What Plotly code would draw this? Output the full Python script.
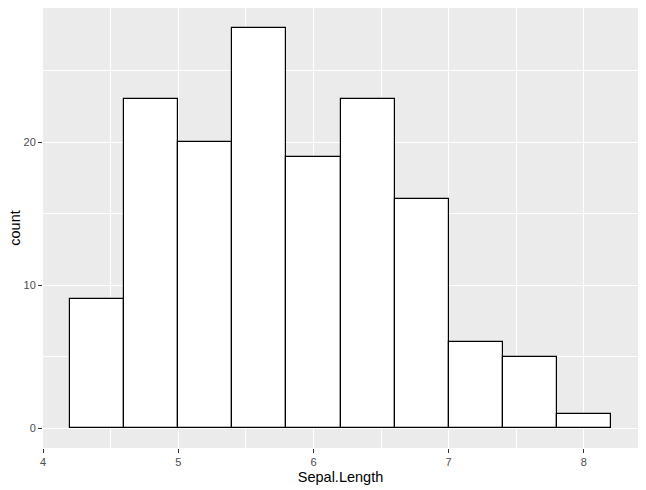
import plotly.graph_objects as go

# iris Sepal.Length histogram, binwidth 0.4
bin_edges = [4.2, 4.6, 5.0, 5.4, 5.8, 6.2, 6.6, 7.0, 7.4, 7.8, 8.2]
counts = [9, 23, 20, 28, 19, 23, 16, 6, 5, 1]
x_ticks = [4, 5, 6, 7, 8]
y_ticks = [0, 10, 20]

centers = [(a + b) / 2 for a, b in zip(bin_edges[:-1], bin_edges[1:])]
widths = [b - a for a, b in zip(bin_edges[:-1], bin_edges[1:])]

fig = go.Figure()
fig.add_trace(go.Bar(
    x=centers,
    y=counts,
    width=widths,
    marker=dict(color='white', line=dict(color='black', width=1.2)),
    hoverinfo='x+y',
))

tick_font = dict(family='Liberation Sans, Arial, sans-serif', size=11, color='#4D4D4D')
title_font = dict(family='Liberation Sans, Arial, sans-serif', size=14.5, color='black')

# the page body adds an 8px offset, so the figure is sized to fill the rest
fig.update_layout(
    width=638, height=482,
    margin=dict(l=35, r=8, t=0, b=42),
    paper_bgcolor='white',
    plot_bgcolor='#EBEBEB',
    showlegend=False,
    bargap=0,
    xaxis=dict(
        range=[4.0, 8.4],
        tickvals=x_ticks,
        tickfont=tick_font,
        ticks='outside', ticklen=4, tickcolor='#333333', tickwidth=1,
        showgrid=True, gridcolor='white', gridwidth=1.1,
        minor=dict(showgrid=True, gridcolor='white', gridwidth=0.55, dtick=0.5, tick0=4.5),
        zeroline=False, showline=False, automargin=False,
        title=dict(text='Sepal.Length', font=title_font, standoff=4),
    ),
    yaxis=dict(
        range=[-1.4, 29.4],
        tickvals=y_ticks,
        tickfont=tick_font,
        ticks='outside', ticklen=4, tickcolor='#333333', tickwidth=1,
        showgrid=True, gridcolor='white', gridwidth=1.1,
        minor=dict(showgrid=True, gridcolor='white', gridwidth=0.55, dtick=5, tick0=5),
        zeroline=False, showline=False, automargin=False,
    ),
    annotations=[dict(
        text='count', textangle=-90, font=title_font,
        xref='paper', yref='paper', x=-0.0475, y=0.5,
        xanchor='center', yanchor='middle', showarrow=False,
    )],
)

fig.write_html("out.html")
